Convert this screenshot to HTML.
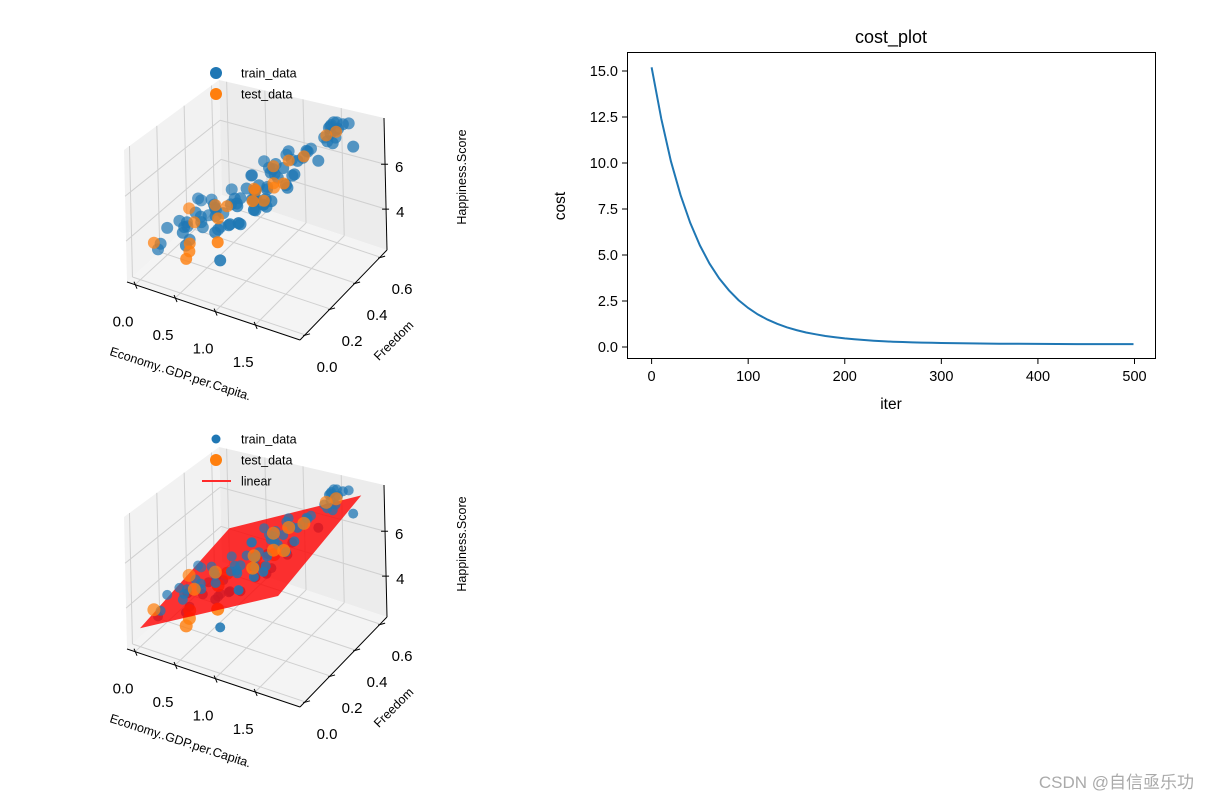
<!DOCTYPE html>
<html><head><meta charset="utf-8"><style>
html,body{margin:0;padding:0;background:#fff;}
svg{display:block;font-family:"Liberation Sans","DejaVu Sans",sans-serif;}
</style></head><body>
<svg id="fig" width="1209" height="800" viewBox="0 0 1209 800" xmlns="http://www.w3.org/2000/svg">
<g id="p1"></g>
<g id="p2"></g>
<g id="p3"></g>
<text x="1194" y="788" text-anchor="end" font-size="17" fill="#aaa" font-family="'Liberation Sans','Noto Sans CJK SC',sans-serif">CSDN @自信亟乐功</text>
</svg>
<script>
// ---- data ----
const trainGdp = [1.62,1.48,1.56,1.44,1.44,1.53,1.41,1.49,1.41,1.48,1.56,1.47,1.35,1.54,1.38,1.74,1.30,1.10,1.28,1.07,1.18,1.10,1.45,1.25,1.34,1.22,0.98,1.33,1.07,1.27,0.83,1.05,1.12,1.21,1.00,1.28,0.91,1.09,1.20,0.79,1.15,1.03,0.93,1.12,0.93,0.87,0.98,0.77,1.12,0.95,0.83,0.66,0.89,0.70,1.09,0.74,0.98,0.56,0.52,0.82,0.65,0.94,0.84,0.37,0.59,0.48,0.23,0.79,0.35,0.40,0.55,0.36,0.70,0.44,0.29,0.18,0.34,0.16,0.36,0.09,0.26,0.91,0.41,0.37,0.51,0.28,0.32,0.09,0.02,0.60,1.00];
const trainFreedom = [0.64,0.63,0.63,0.63,0.61,0.61,0.62,0.61,0.61,0.58,0.57,0.56,0.47,0.56,0.59,0.60,0.43,0.48,0.52,0.48,0.39,0.36,0.50,0.50,0.38,0.58,0.45,0.32,0.52,0.18,0.45,0.40,0.30,0.44,0.28,0.36,0.44,0.40,0.15,0.38,0.27,0.26,0.35,0.08,0.32,0.22,0.30,0.35,0.33,0.40,0.24,0.45,0.32,0.30,0.31,0.32,0.29,0.36,0.25,0.37,0.30,0.20,0.18,0.20,0.22,0.28,0.30,0.20,0.33,0.22,0.30,0.12,0.15,0.20,0.18,0.35,0.12,0.20,0.30,0.15,0.20,0.06,0.10,0.25,0.30,0.40,0.18,0.10,0.12,0.23,0.40];
const trainScore = [7.54,7.52,7.50,7.49,7.47,7.38,7.32,7.28,7.31,7.28,7.21,7.01,6.95,6.99,6.95,6.80,6.65,6.64,6.58,6.45,6.42,6.45,6.43,6.38,6.34,6.34,6.09,6.17,6.00,5.96,6.07,5.97,5.87,5.84,5.82,5.79,5.90,5.84,5.82,5.75,5.62,5.50,5.60,5.52,5.47,5.27,5.27,5.28,5.18,5.27,5.25,5.23,5.07,5.01,5.00,4.96,4.83,4.96,4.81,4.71,4.69,4.65,4.64,4.55,4.53,4.46,4.50,4.44,4.42,4.29,4.18,4.31,4.28,4.19,4.12,4.08,4.03,3.93,3.87,3.80,3.79,3.76,3.64,3.60,3.50,3.47,3.36,3.35,2.90,3.87,5.98];
const testGdp = [1.52,1.39,1.28,1.15,1.25,0.95,1.05,1.00,0.85,1.02,0.80,0.99,0.60,0.45,0.62,0.90,0.35,0.20,0.46,0.47,0.04,0.48];
const testFreedom = [0.60,0.60,0.49,0.45,0.35,0.45,0.39,0.26,0.36,0.41,0.40,0.35,0.30,0.30,0.22,0.05,0.20,0.25,0.10,0.09,0.08,0.06];
const testScore = [7.28,7.00,6.52,6.42,6.00,5.96,5.60,5.43,5.30,5.26,4.96,4.95,4.55,4.44,4.45,4.60,4.08,4.28,3.79,3.50,3.45,3.34];
const planeIntercept = 3.0, planeGdpCoef = 1.9, planeFreedomCoef = 1.5;
const planeGdpRange = [0, 1.75];
const planeFreedomRange = [0, 0.66];
const gdpTicks = [0, 0.5, 1.0, 1.5];
const gdpTickLabels = ["0.0","0.5","1.0","1.5"];
const freedomTicks = [0, 0.2, 0.4, 0.6];
const freedomTickLabels = ["0.0","0.2","0.4","0.6"];
const scoreTicks = [4, 6];
const scoreTickLabels = ["4","6"];
const iterations = [0,10,20,30,40,50,60,70,80,90,100,110,120,130,140,150,160,170,180,190,200,210,220,230,240,250,260,270,280,290,300,320,340,360,380,400,420,440,460,480,499];
const costValues = [15.2,12.4,10.1,8.25,6.75,5.52,4.53,3.73,3.08,2.55,2.12,1.77,1.49,1.26,1.07,0.92,0.79,0.69,0.60,0.53,0.47,0.42,0.38,0.34,0.31,0.29,0.27,0.25,0.24,0.23,0.22,0.20,0.19,0.18,0.175,0.17,0.165,0.16,0.16,0.155,0.155];
const costXTicks = [0,100,200,300,400,500];
const costYTicks = [0,2.5,5,7.5,10,12.5,15];
const costYTickLabels = ["0.0","2.5","5.0","7.5","10.0","12.5","15.0"];

const NS = "http://www.w3.org/2000/svg";
function mk(parent, tag, attrs, text){
  const e = document.createElementNS(NS, tag);
  for (const k in attrs) e.setAttribute(k, attrs[k]);
  if (text !== undefined) e.textContent = text;
  parent.appendChild(e);
  return e;
}
// 3D axis geometry
const G0=-0.1,G1=2.06,F0=-0.04,F1=0.655,Z0=2.18,Z1=8.06;
const cA=[127,282],cB=[300,340],cC=[387,250],cD=[222,195];
const hA=132,hB=140,hC=132,hD=115;
function proj(g,f,z,oy){
  const u=(g-G0)/(G1-G0), v=(f-F0)/(F1-F0), w=(z-Z0)/(Z1-Z0);
  const a=(1-u)*(1-v), b=u*(1-v), c=u*v, d=(1-u)*v;
  const x=cA[0]*a+cB[0]*b+cC[0]*c+cD[0]*d;
  const y=cA[1]*a+cB[1]*b+cC[1]*c+cD[1]*d;
  const h=hA*a+hB*b+hC*c+hD*d;
  return [x - w*3, y - w*h + oy];
}
function depthAlpha(g,f){
  const dist=(G1-g)/(G1-G0)+(f-F0)/(F1-F0);
  return Math.max(0.35, Math.min(0.95, 1.1 - dist*0.33));
}
function pts(arr){return arr.map(p=>p[0].toFixed(1)+","+p[1].toFixed(1)).join(" ");}

function drawAxes3D(g, oy){
  const wall='#f2f2f2', gridc='#d0d0d0';
  const poly=(name,ps,fill)=>{const e=mk(g,'polygon',{points:pts(ps),fill:fill,stroke:'none'});};
  poly('left-pane',[proj(G0,F0,Z0,oy),proj(G0,F1,Z0,oy),proj(G0,F1,Z1,oy),proj(G0,F0,Z1,oy)],wall);
  poly('back-pane',[proj(G0,F1,Z0,oy),proj(G1,F1,Z0,oy),proj(G1,F1,Z1,oy),proj(G0,F1,Z1,oy)],'#ececec');
  poly('floor-pane',[proj(G0,F0,Z0,oy),proj(G1,F0,Z0,oy),proj(G1,F1,Z0,oy),proj(G0,F1,Z0,oy)],'#f4f4f4');
  const line=(name,p,q,col,w)=>{const e=mk(g,'line',{x1:p[0],y1:p[1],x2:q[0],y2:q[1],stroke:col,'stroke-width':w});};
  gdpTicks.forEach(t=>{line('gdp-grid',proj(t,F0,Z0,oy),proj(t,F1,Z0,oy),gridc,1);line('gdp-grid',proj(t,F1,Z0,oy),proj(t,F1,Z1,oy),gridc,1);});
  freedomTicks.forEach(t=>{line('freedom-grid',proj(G1,t,Z0,oy),proj(G0,t,Z0,oy),gridc,1);line('freedom-grid',proj(G0,t,Z0,oy),proj(G0,t,Z1,oy),gridc,1);});
  scoreTicks.forEach(t=>{line('score-grid',proj(G0,F0,t,oy),proj(G0,F1,t,oy),gridc,1);line('score-grid',proj(G0,F1,t,oy),proj(G1,F1,t,oy),gridc,1);});
  line('gdp-axis',proj(G0,F0,Z0,oy),proj(G1,F0,Z0,oy),'#000',1);
  line('freedom-axis',proj(G1,F0,Z0,oy),proj(G1,F1,Z0,oy),'#000',1);
  line('score-axis',proj(G1,F1,Z0,oy),proj(G1,F1,Z1,oy),'#000',1);
  gdpTicks.forEach((t,i)=>{const p=proj(t,F0,Z0,oy);line('gdp-tick',[p[0]-1,p[1]-3],[p[0]+2,p[1]+4],'#000',1);
    const e=mk(g,'text',{x:p[0]-12,y:p[1]+42,'font-size':15,'text-anchor':'middle'},gdpTickLabels[i]);});
  freedomTicks.forEach((t,i)=>{const p=proj(G1,t,Z0,oy);line('freedom-tick',[p[0]-2,p[1]+1],[p[0]+5,p[1]-1],'#000',1);
    const e=mk(g,'text',{x:p[0]+22,y:p[1]+37,'font-size':15,'text-anchor':'middle'},freedomTickLabels[i]);});
  scoreTicks.forEach((t,i)=>{const p=proj(G1,F1,t,oy);line('score-tick',[p[0]-4,p[1]],[p[0]+3,p[1]],'#000',1);
    const e=mk(g,'text',{x:p[0]+10,y:p[1]+8,'font-size':15},scoreTickLabels[i]);});
  let e=mk(g,'text',{x:181,y:378+oy,'font-size':12.5,'text-anchor':'middle',transform:`rotate(18 181 ${372+oy})`},'Economy..GDP.per.Capita.');
  
  e=mk(g,'text',{x:393,y:345+oy,'font-size':12.5,'text-anchor':'middle',transform:`rotate(-45 393 ${340+oy})`},'Freedom');
  
  e=mk(g,'text',{x:466,y:177+oy,'font-size':12.5,'text-anchor':'middle',transform:`rotate(-90 466 ${177+oy})`},'Happiness.Score');
  
}
function drawPoints(g,gd,fr,sc,color,r,oy,filter,name){
  for(let i=0;i<gd.length;i++){
    if(filter && !filter(gd[i],fr[i],sc[i])) continue;
    const p=proj(gd[i],fr[i],sc[i],oy);
    const c=mk(g,'circle',{cx:p[0].toFixed(1),cy:p[1].toFixed(1),r:r,fill:color,'fill-opacity':depthAlpha(gd[i],fr[i]).toFixed(2)});
    
    
  }
}
function legend(g,oy,items){
  items.forEach((it,k)=>{
    const y=73+oy+k*21;
    if(it.line){const l=mk(g,'line',{x1:202,y1:y,x2:231,y2:y,stroke:'#ff2a2a','stroke-width':2});}
    else {const c=mk(g,'circle',{cx:216,cy:y,r:it.r,fill:it.c});}
    const t=mk(g,'text',{x:241,y:y+4.5,'font-size':12.5},it.t);
    
    
  });
}
// plot 1
const p1=document.getElementById('p1');
drawAxes3D(p1,0);
drawPoints(p1,trainGdp,trainFreedom,trainScore,'#1f77b4',6,0,null,'train-point');
drawPoints(p1,testGdp,testFreedom,testScore,'#ff7f0e',6,0,null,'test-point');
legend(p1,0,[{c:'#1f77b4',r:6,t:'train_data'},{c:'#ff7f0e',r:6,t:'test_data'}]);
// plot 2
const OY=367;
const p2=document.getElementById('p2');
drawAxes3D(p2,OY);
const planeZ=(g,f)=>planeIntercept+planeGdpCoef*g+planeFreedomCoef*f;
const below=(g,f,s)=>s<planeZ(g,f), above=(g,f,s)=>s>=planeZ(g,f);
drawPoints(p2,trainGdp,trainFreedom,trainScore,'#1f77b4',5,OY,below,'train-point');
drawPoints(p2,testGdp,testFreedom,testScore,'#ff7f0e',6.5,OY,below,'test-point');
const pc=[[planeGdpRange[0],planeFreedomRange[0]],[planeGdpRange[1],planeFreedomRange[0]],[planeGdpRange[1],planeFreedomRange[1]],[planeGdpRange[0],planeFreedomRange[1]]].map(q=>proj(q[0],q[1],planeZ(q[0],q[1]),OY));
const plane=mk(p2,'polygon',{points:pts(pc),fill:'#ff0000','fill-opacity':0.8});


drawPoints(p2,trainGdp,trainFreedom,trainScore,'#1f77b4',5,OY,above,'train-point');
drawPoints(p2,testGdp,testFreedom,testScore,'#ff7f0e',6.5,OY,above,'test-point');
legend(p2,OY-1,[{c:'#1f77b4',r:4.5,t:'train_data'},{c:'#ff7f0e',r:6,t:'test_data'},{line:true,t:'linear'}]);
// plot 3
const p3=document.getElementById('p3');
const xs=i=>651.6+i*0.9658, ys=c=>347-c*18.4;
const frame=mk(p3,'rect',{x:627.5,y:52.5,width:528,height:306,fill:'none',stroke:'#000','stroke-width':1});

costXTicks.forEach(t=>{
  const l=mk(p3,'line',{x1:xs(t),y1:359,x2:xs(t),y2:364,stroke:'#000'});
  const e=mk(p3,'text',{x:xs(t),y:381,'font-size':14.5,'text-anchor':'middle'},String(t));
});
costYTicks.forEach((t,i)=>{
  const l=mk(p3,'line',{x1:622,y1:ys(t),x2:627,y2:ys(t),stroke:'#000'});
  const e=mk(p3,'text',{x:618,y:ys(t)+5,'font-size':14.5,'text-anchor':'end'},costYTickLabels[i]);
});
const cl=mk(p3,'polyline',{points:iterations.map((it,k)=>xs(it).toFixed(1)+','+ys(costValues[k]).toFixed(1)).join(' '),fill:'none',stroke:'#1f77b4','stroke-width':2});

let t3=mk(p3,'text',{x:891,y:409,'font-size':15.5,'text-anchor':'middle'},'iter');
t3=mk(p3,'text',{x:565,y:206,'font-size':15.5,'text-anchor':'middle',transform:'rotate(-90 565 206)'},'cost');
t3=mk(p3,'text',{x:891,y:43,'font-size':18,'text-anchor':'middle'},'cost_plot');
</script>
</body></html>
